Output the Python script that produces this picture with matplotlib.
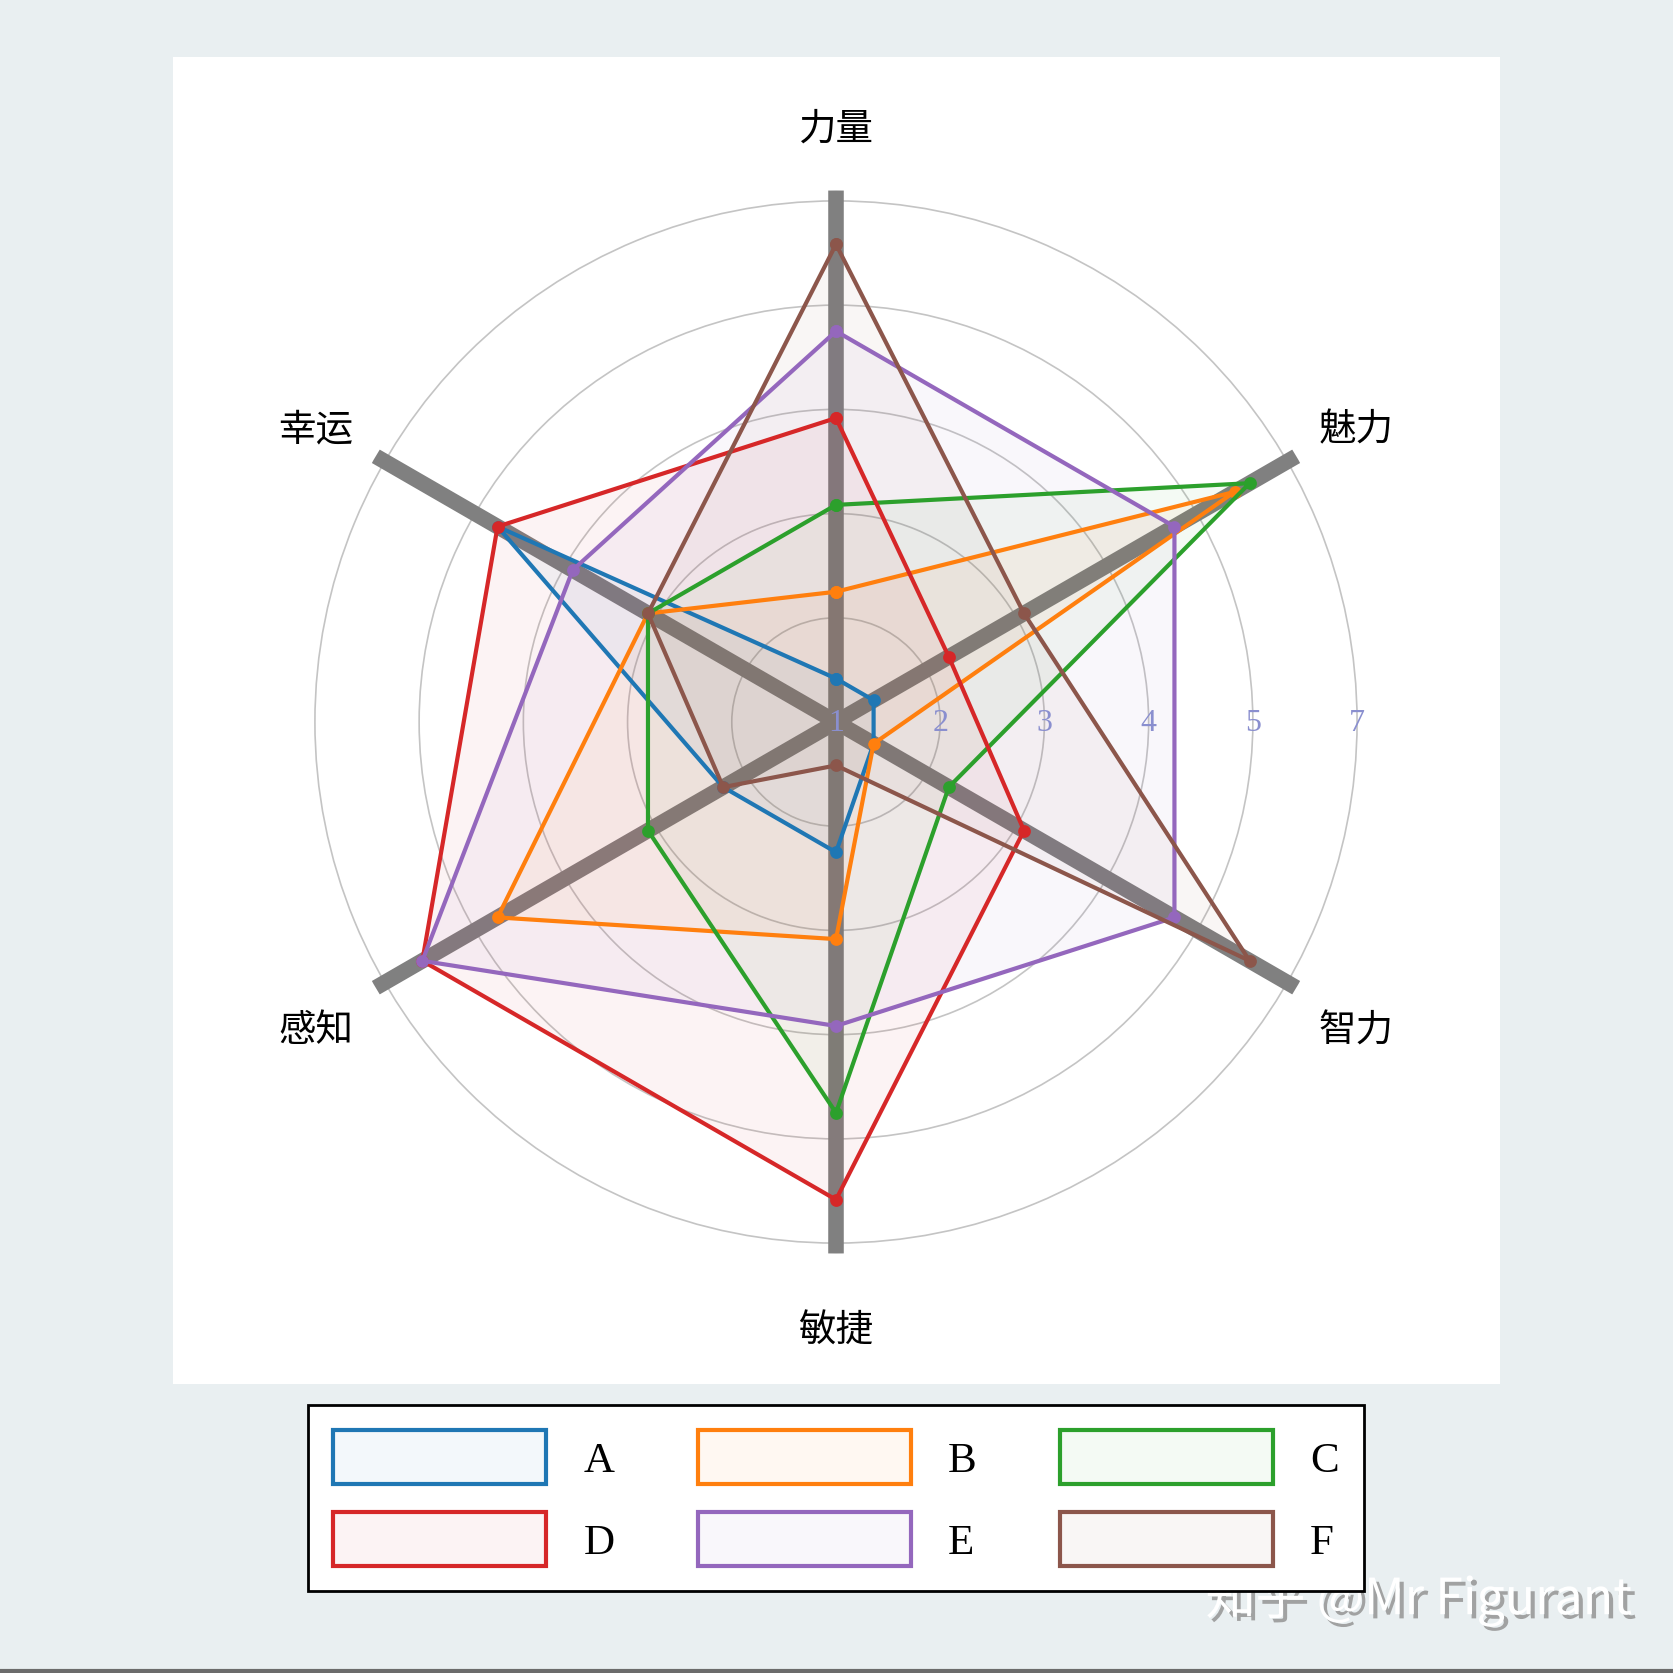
import numpy as np
import matplotlib
matplotlib.use("Agg")
import matplotlib.pyplot as plt
import matplotlib.patheffects as pe
from matplotlib.colors import to_rgba
from matplotlib.lines import Line2D
from matplotlib.patches import Patch

# --- data -----------------------------------------------------------------
categories = ["力量", "魅力", "智力", "敏捷", "感知", "幸运"]
names = ["A", "B", "C", "D", "E", "F"]
scores_a = [1, 1, 1, 2, 2, 5]
scores_b = [2, 5.8, 1, 3, 5, 3]
scores_c = [3, 6, 2, 5, 3, 3]
scores_d = [4, 2, 3, 6, 6, 5]
scores_e = [5, 5, 5, 4, 6, 4]
scores_f = [6, 3, 6, 1, 2, 3]
series = [scores_a, scores_b, scores_c, scores_d, scores_e, scores_f]
colors = ["#1f77b4", "#ff7f0e", "#2ca02c", "#d62728", "#9467bd", "#8c564b"]
r_ticks = [0.5, 1.7, 2.9, 4.1, 5.3, 6.5]
r_tick_labels = ["1", "2", "3", "4", "5", "7"]

BG = "#e9eff1"
SERIF = "Liberation Serif"
CJK = "Noto Sans CJK SC"
RMAX = 6.62

fig = plt.figure(figsize=(8.37, 8.37), dpi=200, facecolor=BG)

# white panel behind the radar
panel = fig.add_axes([0.1035, 0.1726, 0.7926, 0.7926])
panel.set_facecolor("white")
panel.set_xticks([])
panel.set_yticks([])
for s in panel.spines.values():
    s.set_visible(False)

R = 0.3175
ax = fig.add_axes([0.4994 - R, 0.5681 - R, 2 * R, 2 * R], projection="polar")
ax.set_theta_zero_location("N")
ax.set_theta_direction(-1)
ax.set_facecolor("white")

angles = np.arange(len(categories)) * 2 * np.pi / len(categories)
closed = np.append(angles, angles[0])

for vals, c in zip(series, colors):
    v = np.append(vals, vals[0])
    ax.fill(closed, v, color=c, alpha=0.05, zorder=1)
    ax.plot(closed, v, color=c, lw=1.5, marker="o", ms=3.6, zorder=2)

ax.set_ylim(0.5, RMAX)
ax.set_yticks(r_ticks)
ax.set_yticklabels([])
ax.set_xticks(angles)
ax.set_xticklabels([])
ax.tick_params(length=0)
ax.spines["polar"].set_visible(False)

ax.set_axisbelow(True)
ax.xaxis.grid(True, color="#808080", lw=5.6)
ax.yaxis.grid(True, color="#c4c4c4", lw=0.6)
ax.xaxis.set_zorder(0.6)

# category labels just outside the rim
pad = 25.0
for ang, cat in zip(angles, categories):
    ax.annotate(cat, xy=(ang, RMAX), xytext=(pad * np.sin(ang), pad * np.cos(ang) - 2.7),
                textcoords="offset points", ha="center", va="center",
                fontsize=13.5, fontfamily=CJK, annotation_clip=False)

for r, lab in zip(r_ticks, r_tick_labels):
    ax.text(np.pi / 2, r, lab, ha="center", va="center", color="#8a8fcf",
            fontsize=11.5, fontfamily=SERIF, zorder=5)

# legend: row-wise A B C / D E F
handles = [Patch(facecolor=to_rgba(c, 0.05), edgecolor=c, linewidth=1.5, label=n)
           for c, n in zip(colors, names)]
order = [0, 3, 1, 4, 2, 5]
leg = fig.legend(handles=[handles[i] for i in order], loc="upper center",
                 bbox_to_anchor=(0.4994, 0.1603), ncol=3,
                 prop={"family": SERIF, "size": 15.5},
                 handlelength=4.95, handleheight=1.56, handletextpad=0.87,
                 columnspacing=1.92, labelspacing=0.65, borderpad=0.58,
                 borderaxespad=0.0, fancybox=False, framealpha=1, edgecolor="black")
leg.get_frame().set_linewidth(1.0)

# watermark and bottom border
fig.text(0.975, 0.044, "知乎 @Mr Figurant", ha="right", va="center",
         fontsize=18, color="white", fontfamily=CJK,
         path_effects=[pe.SimplePatchShadow(offset=(1.5, -1.5),
                                            shadow_rgbFace="#9a9a9a", alpha=0.9),
                       pe.Normal()])
fig.add_artist(Line2D([0, 1], [0.001, 0.001], transform=fig.transFigure,
                      color="#6b6b6b", lw=1.5))

fig.savefig("out.png", dpi=200, facecolor=fig.get_facecolor())
